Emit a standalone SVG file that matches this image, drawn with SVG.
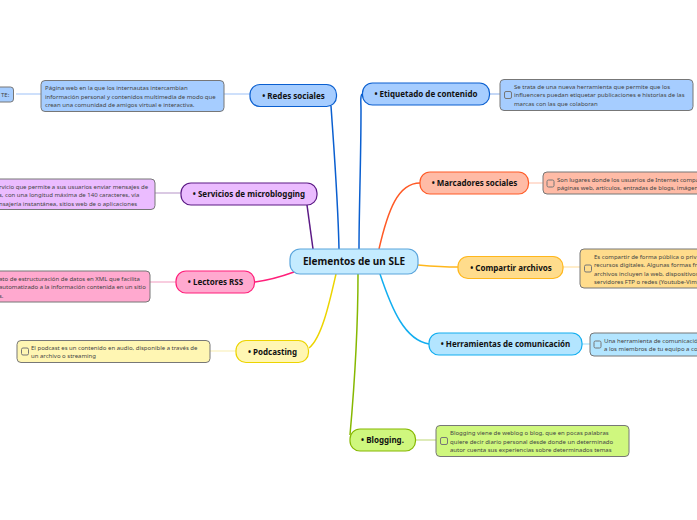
<svg xmlns="http://www.w3.org/2000/svg" width="697" height="520" viewBox="0 0 697 520">
<style>
text{font-family:"Noto Sans","Open Sans",sans-serif}
.t{font-size:8px;font-weight:700;fill:#111;text-anchor:middle}
.d{font-size:6px;fill:#444}
.n{stroke-width:1.2}
.b{stroke:#777;stroke-width:1}
.c{fill:none;stroke-width:1.5}
.l{fill:none;stroke-width:1;opacity:.55}
.k{fill:none;stroke:#777;stroke-width:1}
</style>
<rect width="697" height="520" fill="#fff"/>
<g id="connectors">
<path class="c" stroke="#0a5fd0" d="M331 106C334 150 338 200 339 249"/>
<path class="c" stroke="#0a5fd0" d="M362 94C360 96 361 100 361 110C361 160 359 210 359 249"/>
<path class="c" stroke="#5c1a86" d="M307 205C309 220 311 235 313 249"/>
<path class="c" stroke="#ff1f7a" d="M255 282C270 280 283 276 294 272"/>
<path class="c" stroke="#ecd400" d="M309 348C322 338 330 300 336 274"/>
<path class="c" stroke="#ff5a26" d="M420 183C398 183 388 210 379 249"/>
<path class="c" stroke="#ffb71c" d="M418 265C430 266 445 267 458 267"/>
<path class="c" stroke="#12aef0" d="M380 274C392 310 405 340 429 344"/>
<path class="c" stroke="#86b800" d="M358 274C358 330 354 390 350 435"/>
<path class="l" stroke="#4f8ff0" d="M16 94H41M224 94H250"/>
<path class="l" stroke="#7a3a9a" d="M155 193H181"/>
<path class="l" stroke="#e84a8a" d="M150 282H176"/>
<path class="l" stroke="#f2e070" d="M210 351H236"/>
<path class="l" stroke="#2a6fe0" d="M490 94H500"/>
<path class="l" stroke="#ff8a60" d="M529 183H543"/>
<path class="l" stroke="#ffc040" d="M563 267H580"/>
<path class="l" stroke="#40bdf5" d="M582 344H590"/>
<path class="l" stroke="#86b800" d="M416 440H436"/>
</g>
<g id="central"><rect class="n" x="290" y="249" width="128" height="25" rx="10" fill="#c4ebff" stroke="#5aa5dc"/><text x="354" y="265" style="font-size:10px" class="t">Elementos de un SLE</text></g>
<g id="redes"><rect class="n" x="250" y="84.500" width="86.500" height="22" rx="10" fill="#a6cdff" stroke="#0a5fd0"/><text x="293.500" y="98.500" class="t">• Redes sociales</text></g>
<g id="redes-d"><rect class="b" x="41" y="80.500" width="183" height="31" rx="4" fill="#a6cdff"/><text class="d" x="45" y="90">Página web en la que los internautas intercambian</text><text class="d" x="45" y="98.500">información personal y contenidos multimedia de modo que</text><text class="d" x="45" y="107">crean una comunidad de amigos virtual e interactiva.</text></g>
<g id="redes-e"><rect class="b" x="-20" y="87" width="33.500" height="15" rx="3" fill="#a6cdff"/><text class="d" x="1" y="97">TE:</text></g>
<g id="micro"><rect class="n" x="181" y="183" width="136" height="22" rx="10" fill="#ebbcff" stroke="#5c1a86"/><text x="249" y="197" class="t">• Servicios de microblogging</text></g>
<g id="micro-d"><rect class="b" x="-20" y="179" width="175" height="30.500" rx="4" fill="#ebbcff"/><text class="d" x="-1" y="188.500">rvicio que permite a sus usuarios enviar mensajes de</text><text class="d" x="-1" y="197">s, con una longitud máxima de 140 caracteres, vía</text><text class="d" x="-1" y="205.500">nsajería instantánea, sitios web de o aplicaciones</text></g>
<g id="rss"><rect class="n" x="176" y="271" width="78.500" height="22" rx="10" fill="#ffa9cf" stroke="#ff1f7a"/><text x="215.500" y="285" class="t">• Lectores RSS</text></g>
<g id="rss-d"><rect class="b" x="-20" y="271" width="170" height="31" rx="4" fill="#ffa9cf"/><text class="d" x="-1" y="280.500">ato de estructuración de datos en XML que facilita</text><text class="d" x="-1" y="289">automatizado a la información contenida en un sitio</text><text class="d" x="-1" y="297.500">s.</text></g>
<g id="podcasting"><rect class="n" x="236" y="340.500" width="72.500" height="22" rx="10" fill="#fff6b3" stroke="#ecd400"/><text x="272.500" y="354.500" class="t">• Podcasting</text></g>
<g id="podcasting-d"><rect class="b" x="17" y="340.500" width="193" height="22" rx="4" fill="#fff6b3"/><rect class="k" x="21.500" y="348" width="7" height="7" rx="1.500"/><text class="d" x="31" y="350">El podcast es un contenido en audio, disponible a través de</text><text class="d" x="31" y="358">un archivo o streaming</text></g>
<g id="etiquetado"><rect class="n" x="362.500" y="83" width="127" height="22" rx="10" fill="#a6cdff" stroke="#0a5fd0"/><text x="426" y="97" class="t">• Etiquetado de contenido</text></g>
<g id="etiquetado-d"><rect class="b" x="500" y="79.500" width="193" height="31" rx="4" fill="#a6cdff"/><rect class="k" x="504.500" y="91.500" width="7" height="7" rx="1.500"/><text class="d" x="514" y="89">Se trata de una nueva herramienta que permite que los</text><text class="d" x="514" y="97">influencers puedan etiquetar publicaciones e historias de las</text><text class="d" x="514" y="106">marcas con las que colaboran</text></g>
<g id="marcadores"><rect class="n" x="420" y="172" width="108.500" height="22" rx="10" fill="#ffbba6" stroke="#ff5a26"/><text x="474.500" y="186" class="t">• Marcadores sociales</text></g>
<g id="marcadores-d"><rect class="b" x="543" y="172" width="174" height="22" rx="4" fill="#ffbba6"/><rect class="k" x="547" y="180" width="7" height="7" rx="1.500"/><text class="d" x="557" y="182">Son lugares donde los usuarios de Internet compa</text><text class="d" x="557" y="190">páginas web, artículos, entradas de blogs, imágen</text></g>
<g id="compartir"><rect class="n" x="458" y="256.500" width="105" height="22" rx="10" fill="#ffdc8c" stroke="#ffb71c"/><text x="511" y="270.500" class="t">• Compartir archivos</text></g>
<g id="compartir-d"><rect class="b" x="580" y="249" width="140" height="39" rx="4" fill="#ffdc8c"/><rect class="k" x="584.500" y="265" width="7" height="7" rx="1.500"/><text class="d" x="594" y="258.500">Es compartir de forma pública o priv</text><text class="d" x="594" y="267">recursos digitales. Algunas formas fr</text><text class="d" x="594" y="275.500">archivos incluyen la web, dispositivos</text><text class="d" x="594" y="284">servidores FTP o redes (Youtube-Vim</text></g>
<g id="herramientas"><rect class="n" x="429" y="333" width="153" height="22" rx="10" fill="#b3e5ff" stroke="#12aef0"/><text x="505.500" y="347" class="t">• Herramientas de comunicación</text></g>
<g id="herramientas-d"><rect class="b" x="590" y="333" width="130" height="23" rx="4" fill="#b3e5ff"/><rect class="k" x="594" y="341" width="7" height="7" rx="1.500"/><text class="d" x="604" y="343">Una herramienta de comunicació</text><text class="d" x="604" y="351">a los miembros de tu equipo a co</text></g>
<g id="blogging"><rect class="n" x="350" y="429" width="65.500" height="22" rx="10" fill="#cff77e" stroke="#86b800"/><text x="382.500" y="443" class="t">• Blogging.</text></g>
<g id="blogging-d"><rect class="b" x="436" y="425.500" width="193" height="31" rx="4" fill="#cff77e"/><rect class="k" x="440.500" y="437.500" width="7" height="7" rx="1.500"/><text class="d" x="450" y="435">Blogging viene de weblog o blog, que en pocas palabras</text><text class="d" x="450" y="443.500">quiere decir diario personal desde donde un determinado</text><text class="d" x="450" y="452">autor cuenta sus experiencias sobre determinados temas</text></g>
</svg>
